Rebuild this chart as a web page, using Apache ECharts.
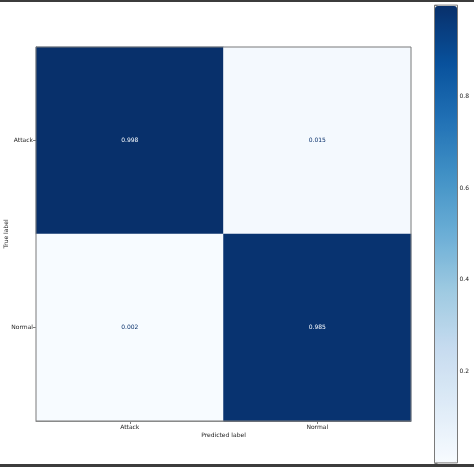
<!DOCTYPE html>
<html>
<head>
<meta charset="utf-8">
<script src="https://cdn.jsdelivr.net/npm/echarts@6/dist/echarts.min.js"></script>
<style>
  html, body { margin: 0; padding: 0; background: #3c3c3c; }
  #chart { position: absolute; left: 0; top: 2px; width: 474px; height: 462px; background: #fff; }
</style>
</head>
<body>
<div id="chart"></div>
<script>
// confusion matrix (normalized), rows = true label, cols = predicted label
const trueLabels = ['Attack', 'Normal']
const predLabels = ['Attack', 'Normal']
const matrix = [
  [0.998, 0.015],
  [0.002, 0.985]
]
const barTicks = [0.2, 0.4, 0.6, 0.8]
// matplotlib "Blues"
const blues = ['#f7fbff', '#deebf7', '#c6dbef', '#9ecae1', '#6baed6', '#4292c6', '#2171b5', '#08519c', '#08306b']

const flat = matrix.flat()
const vMin = Math.min(...flat)
const vMax = Math.max(...flat)
const mid = (vMin + vMax) / 2

const cells = []
matrix.forEach((row, i) => {
  row.forEach((v, j) => {
    cells.push({
      value: [j, i, v],
      label: { color: v > mid ? blues[0] : blues[blues.length - 1] }
    })
  })
})

const font = 'DejaVu Sans'
const axisGray = '#7a7a7a'
const offY = 2 // chart div offset

const chart = echarts.init(document.getElementById('chart'))
chart.setOption({
  animation: false,
  textStyle: { fontFamily: font },
  grid: [
    // main matrix
    { left: 36, top: 47 - offY, width: 375, height: 374, show: true, z: 5,
      outerBoundsMode: 'none', containLabel: false,
      backgroundColor: 'transparent', borderColor: axisGray, borderWidth: 1 },
    // colorbar
    { left: 434.5, top: 5.1 - offY, width: 23, height: 457.8, show: true, z: 10,
      outerBoundsMode: 'none', containLabel: false,
      backgroundColor: 'transparent', borderColor: axisGray, borderWidth: 1 }
  ],
  xAxis: [
    {
      gridIndex: 0,
      type: 'category',
      data: predLabels,
      name: 'Predicted label',
      nameLocation: 'middle',
      nameGap: 11,
      nameMoveOverlap: false,
      nameTextStyle: { fontSize: 6, color: '#222', fontFamily: font },
      splitArea: { show: false },
      axisLine: { show: true, lineStyle: { color: axisGray, width: 1 } },
      axisTick: { show: true, alignWithLabel: true, length: 3, lineStyle: { color: axisGray } },
      axisLabel: { fontSize: 6, color: '#222', margin: 3, fontFamily: font }
    },
    { gridIndex: 1, type: 'value', show: false, min: 0, max: 1 }
  ],
  yAxis: [
    {
      gridIndex: 0,
      type: 'category',
      data: trueLabels,
      inverse: true,
      name: 'True label',
      nameLocation: 'middle',
      nameRotate: 90,
      nameGap: 27,
      nameMoveOverlap: false,
      nameTextStyle: { fontSize: 6, color: '#222', fontFamily: font },
      axisLine: { show: true, lineStyle: { color: axisGray, width: 1 } },
      axisTick: { show: true, alignWithLabel: true, length: 3, lineStyle: { color: axisGray } },
      axisLabel: { fontSize: 6, color: '#222', margin: 3, fontFamily: font }
    },
    {
      gridIndex: 1,
      type: 'value',
      position: 'right',
      min: 0,
      max: 1,
      interval: 0.2,
      splitLine: { show: false },
      axisLine: { show: false },
      axisTick: { show: true, length: 3, lineStyle: { color: axisGray } },
      axisLabel: {
        fontSize: 6, color: '#222', margin: 2, fontFamily: font,
        formatter: v => barTicks.some(t => Math.abs(t - v) < 1e-6) ? v.toFixed(1) : ''
      }
    }
  ],
  visualMap: {
    type: 'continuous',
    seriesIndex: 0,
    min: vMin,
    max: vMax,
    calculable: false,
    hoverLink: false,
    left: 435,
    top: 6 - offY,
    itemWidth: 22,
    itemHeight: 456,
    padding: 0,
    text: null,
    showLabel: false,
    inRange: { color: blues }
  },
  series: [
    {
      type: 'heatmap',
      xAxisIndex: 0,
      yAxisIndex: 0,
      data: cells,
      label: {
        show: true,
        fontSize: 6,
        fontFamily: font,
        formatter: p => p.value[2].toFixed(3)
      },
      emphasis: { disabled: true }
    }
  ]
})
</script>
</body>
</html>
